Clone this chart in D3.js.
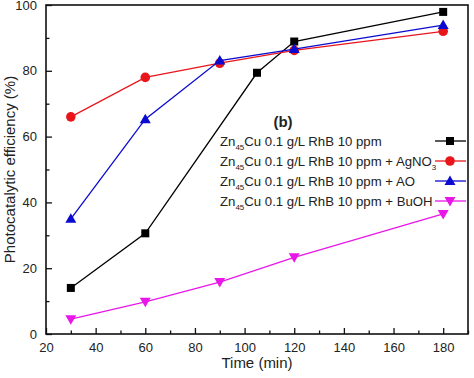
<!DOCTYPE html>
<html>
<head>
<meta charset="utf-8">
<script src="https://cdn.jsdelivr.net/npm/d3@7"></script>
<style>
body { margin: 0; background: #fff; }
text { font-family: "Liberation Sans", Arial, sans-serif; fill: #222; }
</style>
</head>
<body>
<svg id="chart" width="474" height="378"></svg>
<script>
var blackX = [30, 60, 105, 120, 180];
var blackY = [14, 30.6, 79.4, 88.9, 97.9];
var otherX = [30, 60, 90, 120, 180];
var redY = [66, 78, 82.3, 86.2, 92];
var blueY = [35, 65.3, 83.1, 86.6, 93.9];
var magentaY = [4.5, 9.8, 15.8, 23.3, 36.5];
var xTicks = [20, 40, 60, 80, 100, 120, 140, 160, 180];
var yTicks = [0, 20, 40, 60, 80, 100];
var labels = ["", " + AgNO", " + AO", " + BuOH"];

var svg = d3.select("#chart");
var pLeft = 46, pRight = 468, pTop = 5, pBottom = 334;

var x = d3.scaleLinear().domain([20, 190]).range([pLeft, pRight]);
var y = d3.scaleLinear().domain([0, 100]).range([pBottom, pTop]);

var series = [
    {xs: blackX, ys: blackY, color: "#000", shape: "square"},
    {xs: otherX, ys: redY, color: "#e8161b", shape: "circle"},
    {xs: otherX, ys: blueY, color: "#0a0ad0", shape: "up"},
    {xs: otherX, ys: magentaY, color: "#e817e8", shape: "down"}
];

function marker(g, shape, color, cx, cy) {
    if (shape == "square") {
        g.append("rect").attr("x", cx - 4).attr("y", cy - 4).attr("width", 8).attr("height", 8).attr("fill", color);
    } else if (shape == "circle") {
        g.append("circle").attr("cx", cx).attr("cy", cy).attr("r", 4.8).attr("fill", color);
    } else if (shape == "up") {
        g.append("path").attr("d", "M" + cx + "," + (cy - 5.5) + "L" + (cx + 5.5) + "," + (cy + 4) + "L" + (cx - 5.5) + "," + (cy + 4) + "Z").attr("fill", color);
    } else {
        g.append("path").attr("d", "M" + cx + "," + (cy + 5.5) + "L" + (cx + 5.5) + "," + (cy - 4) + "L" + (cx - 5.5) + "," + (cy - 4) + "Z").attr("fill", color);
    }
}

// axes (ticks inward)
var xAxis = svg.append("g").attr("transform", "translate(0," + pBottom + ")")
    .call(d3.axisBottom(x).tickValues(d3.range(20, 191, 10)).tickSize(-5).tickPadding(9)
        .tickFormat(function (d) { return xTicks.indexOf(d) >= 0 ? d : ""; }));
xAxis.selectAll(".tick line").attr("y2", function (d) { return xTicks.indexOf(d) >= 0 ? -6 : -3.5; });
var yAxis = svg.append("g").attr("transform", "translate(" + pLeft + ",0)")
    .call(d3.axisLeft(y).tickValues(d3.range(0, 101, 10)).tickSize(-5).tickPadding(9)
        .tickFormat(function (d) { return yTicks.indexOf(d) >= 0 ? d : ""; }));
yAxis.selectAll(".tick line").attr("x2", function (d) { return yTicks.indexOf(d) >= 0 ? 6 : 3.5; });
svg.selectAll(".domain").remove();
svg.selectAll(".tick line").attr("stroke", "#111").attr("stroke-width", 1.3);
svg.selectAll(".tick text").attr("font-size", 13).attr("fill", "#222")
    .attr("font-family", "'Liberation Sans', Arial, sans-serif");

svg.append("rect").attr("x", pLeft).attr("y", pTop).attr("width", pRight - pLeft).attr("height", pBottom - pTop)
    .attr("fill", "none").attr("stroke", "#111").attr("stroke-width", 1.6);

// lines and markers
series.forEach(function (s) {
    var pts = s.xs.map(function (v, i) { return [x(v), y(s.ys[i])]; });
    svg.append("path").attr("d", d3.line()(pts)).attr("fill", "none")
        .attr("stroke", s.color).attr("stroke-width", 1.3);
    var g = svg.append("g");
    pts.forEach(function (p) { marker(g, s.shape, s.color, p[0], p[1]); });
});

// legend
svg.append("text").attr("x", 283).attr("y", 127).attr("text-anchor", "middle")
    .attr("font-size", 15).attr("font-weight", "bold").text("(b)");
series.forEach(function (s, i) {
    var ly = 141 + i * 20;
    var t = svg.append("text").attr("x", 220).attr("y", ly + 5).attr("font-size", 13.2);
    t.append("tspan").text("Zn");
    t.append("tspan").attr("dy", 4).attr("font-size", 8).text("45");
    t.append("tspan").attr("dy", -4).text("Cu 0.1 g/L RhB 10 ppm" + labels[i]);
    if (i == 1) t.append("tspan").attr("dy", 4).attr("font-size", 8).text("3");
    svg.append("line").attr("x1", 435).attr("x2", 466).attr("y1", ly).attr("y2", ly)
        .attr("stroke", s.color).attr("stroke-width", 1.3);
    marker(svg.append("g"), s.shape, s.color, 450, ly);
});

// axis titles
svg.append("text").attr("x", (pLeft + pRight) / 2).attr("y", 368).attr("text-anchor", "middle")
    .attr("font-size", 15).text("Time (min)");
svg.append("text").attr("transform", "translate(15," + (pBottom + pTop) / 2 + ") rotate(-90)")
    .attr("text-anchor", "middle").attr("font-size", 15).text("Photocatalytic efficiency (%)");
</script>
</body>
</html>
